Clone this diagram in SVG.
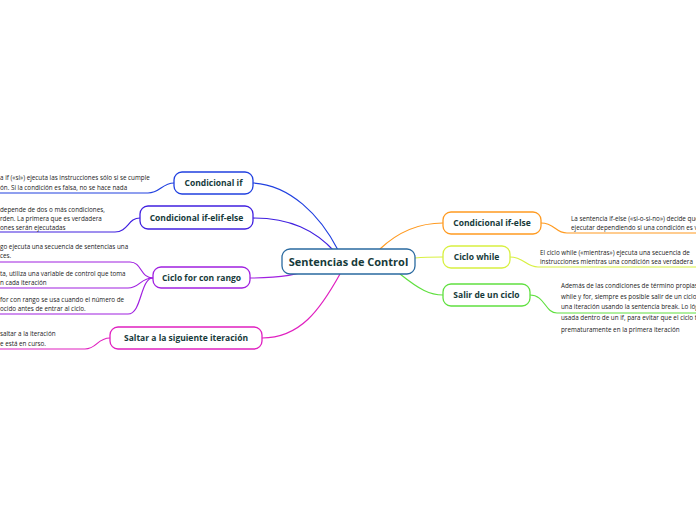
<svg xmlns="http://www.w3.org/2000/svg" width="696" height="520" viewBox="0 0 696 520">
<style>
.n{fill:#fff;stroke-width:1.3}
.l{font-family:"Open Sans","Noto Sans",sans-serif;font-size:8.5px;font-weight:bold;fill:#163a3a;text-anchor:middle}
.d{font-family:"Open Sans","Noto Sans",sans-serif;font-size:6.3px;fill:#222}
.c{fill:none;stroke-width:1.2}
</style>
<rect width="696" height="520" fill="#fff"/>
<g id="connectors">
<path class="c" stroke="#2040e0" d="M338,250 C320,215 290,185 253,183"/>
<path class="c" stroke="#4020e0" d="M335,252 C315,230 290,218 253,218"/>
<path class="c" stroke="#a020e0" d="M320,266 C300,275 280,278 250,278"/>
<path class="c" stroke="#e020c0" d="M340,274 C320,310 300,338 262,338"/>
<path class="c" stroke="#ff9a20" d="M380,249 C400,230 420,223 443,223"/>
<path class="c" stroke="#d8f040" d="M415,258 C425,257 435,257 443,257"/>
<path class="c" stroke="#60e040" d="M400,274 C420,290 430,295 443,295"/>
<path class="c" stroke="#2040e0" d="M174,183 C162,183 160,193 148,193 L0,193"/>
<path class="c" stroke="#4020e0" d="M140,218 C128,218 128,232 115,232 L0,232"/>
<path class="c" stroke="#a020e0" d="M153,278 C140,278 142,262 130,262 L0,262"/>
<path class="c" stroke="#a020e0" d="M153,278 C140,278 140,288 128,288 L0,288"/>
<path class="c" stroke="#a020e0" d="M153,278 C140,278 142,314 128,314 L0,314"/>
<path class="c" stroke="#e020c0" d="M110,338 C97,338 97,349 85,349 L0,349"/>
<path class="c" stroke="#ff9a20" d="M541,223 C555,223 555,233 567,233 L696,233"/>
<path class="c" stroke="#d8f040" d="M510,257 C524,257 526,267 538,267 L696,267"/>
<path class="c" stroke="#60e040" d="M530,295 C545,295 545,313 557,313 L696,313"/>
</g>
<g id="center"><rect x="282" y="249" width="133" height="25" rx="8" fill="#fff" stroke="#2a6aa0" stroke-width="1.3"/><text x="348.5" y="265.5" class="l" style="font-size:11px">Sentencias de Control</text></g>
<g id="n1"><rect class="n" x="174" y="172" width="79" height="22" rx="8" stroke="#2040e0"/><text class="l" x="213.5" y="186">Condicional if</text>
<text class="d" x="0" y="180">a if («si») ejecuta las instrucciones sólo si se cumple</text><text class="d" x="0" y="190">ón. Si la condición es falsa, no se hace nada</text></g>
<g id="n2"><rect class="n" x="140" y="206" width="113" height="23" rx="8" stroke="#4020e0"/><text class="l" x="196.5" y="221">Condicional if-elif-else</text>
<text class="d" x="0" y="212">depende de dos o más condiciones,</text><text class="d" x="0" y="221">rden. La primera que es verdadera</text><text class="d" x="0" y="230">ones serán ejecutadas</text></g>
<g id="n3"><rect class="n" x="153" y="267" width="97" height="21" rx="8" stroke="#a020e0"/><text class="l" x="201.5" y="281">Ciclo for con rango</text>
<text class="d" x="0" y="249">go ejecuta una secuencia de sentencias una</text><text class="d" x="0" y="258">ces.</text>
<text class="d" x="0" y="276">ta, utiliza una variable de control que toma</text><text class="d" x="0" y="285">n cada iteración</text>
<text class="d" x="0" y="302">for con rango se usa cuando el número de</text><text class="d" x="0" y="311">ocido antes de entrar al ciclo.</text></g>
<g id="n4"><rect class="n" x="110" y="327" width="152" height="22" rx="8" stroke="#e020c0"/><text class="l" x="186" y="341">Saltar a la siguiente iteración</text>
<text class="d" x="0" y="336">saltar a la iteración</text><text class="d" x="0" y="346">e está en curso.</text></g>
<g id="n5"><rect class="n" x="443" y="212" width="98" height="22" rx="8" stroke="#ff9a20"/><text class="l" x="492" y="226">Condicional if-else</text>
<text class="d" x="571" y="221">La sentencia if-else («si-o-si-no») decide qué i</text><text class="d" x="571" y="230">ejecutar dependiendo si una condición es ver</text></g>
<g id="n6"><rect class="n" x="443" y="246" width="67" height="22" rx="8" stroke="#d8f040"/><text class="l" x="476.5" y="260">Ciclo while</text>
<text class="d" x="540" y="255">El ciclo while («mientras») ejecuta una secuencia de</text><text class="d" x="540" y="264">instrucciones mientras una condición sea verdadera</text></g>
<g id="n7"><rect class="n" x="443" y="284" width="87" height="22" rx="8" stroke="#60e040"/><text class="l" x="486.5" y="298">Salir de un ciclo</text>
<text class="d" x="561" y="288">Además de las condiciones de término propias d</text><text class="d" x="561" y="299">while y for, siempre es posible salir de un ciclo en</text><text class="d" x="561" y="309">una iteración usando la sentencia break. Lo lógic</text><text class="d" x="561" y="320">usada dentro de un if, para evitar que el ciclo ter</text><text class="d" x="561" y="332">prematuramente en la primera iteración</text></g>
</svg>
